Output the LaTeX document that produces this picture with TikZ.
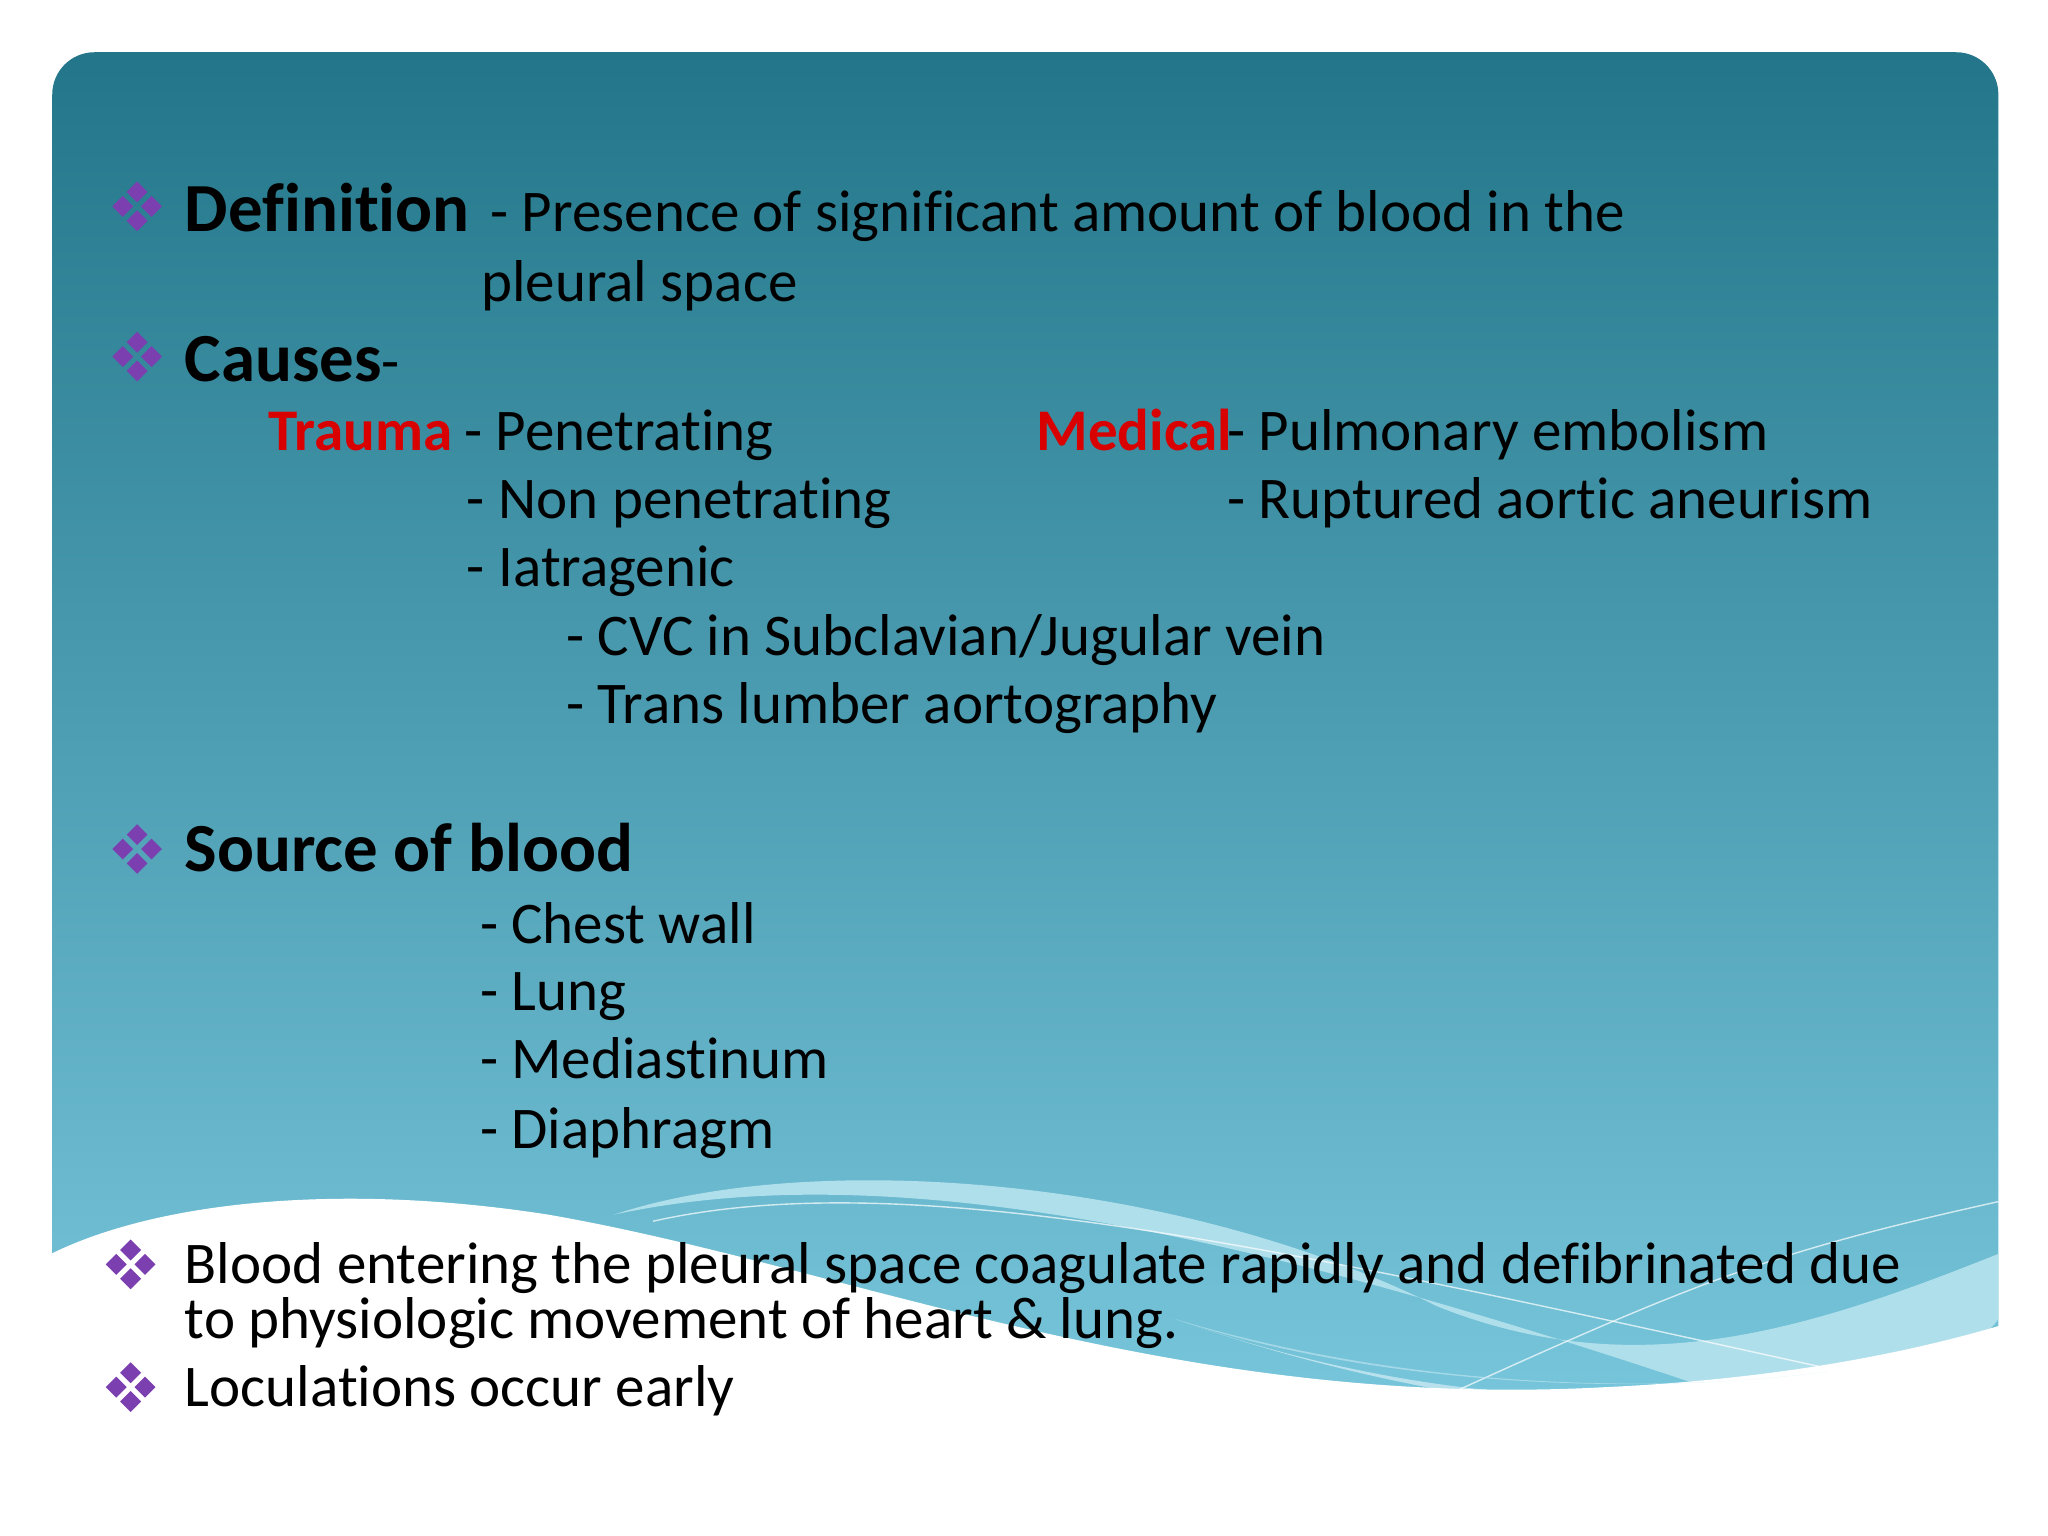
\documentclass[tikz,border=0pt]{standalone}
\usepackage{fontspec}
\setmainfont[Ligatures=NoCommon]{Carlito}
\begin{document}
\begin{tikzpicture}[x=0.01306cm,y=-0.01306cm,
  txt/.style={anchor=base west,inner sep=0,font=\fontsize{16.8}{19}\selectfont},
  head/.style={anchor=base west,inner sep=0,font=\fontsize{19.6}{22}\selectfont\bfseries},
  red/.style={text=red!85!black}]
\definecolor{topc}{HTML}{237689}
\definecolor{botc}{HTML}{7BC9DF}
\definecolor{bul}{HTML}{7B3FB0}
\useasboundingbox (0,0) rectangle (1568,1176);
\fill[white] (0,0) rectangle (1568,1176);
\shade[top color=topc,bottom color=botc,rounded corners=12] (40,40) rectangle (1530,1120);
% light bands
\fill[botc!60!white] (470,930) .. controls (700,880) and (1000,960) .. (1300,1060) .. controls (1420,1080) and (1500,1050) .. (1530,1010) -- (1530,960) .. controls (1380,1020) and (1250,1060) .. (1100,1000) .. controls (900,900) and (620,880) .. (470,930) -- cycle;
\fill[botc!40!white,opacity=0.8] (900,1010) .. controls (1100,1080) and (1300,1090) .. (1530,1030) -- (1530,1080) .. controls (1300,1100) and (1100,1080) .. (900,1010) -- cycle;
\draw[white,opacity=0.7] (500,935) .. controls (700,890) and (1000,960) .. (1410,1050);
\draw[white,opacity=0.7] (1530,920) .. controls (1350,960) and (1300,980) .. (1060,1090);
% white wave
\fill[white] (39,960) .. controls (120,920) and (260,905) .. (420,930) .. controls (650,970) and (900,1080) .. (1230,1062) .. controls (1380,1055) and (1480,1030) .. (1531,1015) -- (1531,1177) -- (39,1177) -- cycle;
\fill[botc!45!white,opacity=0.6] (900,1010) .. controls (1050,1060) and (1250,1070) .. (1400,1050) .. controls (1300,1064) and (1100,1070) .. (900,1010) -- cycle;
\newcommand{\bulmark}[2]{\begin{scope}[shift={(#1,#2)}]
  \foreach \dx/\dy in {0/-11,-11/0,11/0,0/11}{\fill[bul] (\dx,\dy-8) -- (\dx+8,\dy) -- (\dx,\dy+8) -- (\dx-8,\dy) -- cycle;}
\end{scope}}
\bulmark{105}{158}
\bulmark{105}{273}
\bulmark{105}{650}
\bulmark{100}{968}
\bulmark{100}{1062}
\node[head] (d) at (141,177) {Definition};
\node[txt] (d1) at (375,177) {- Presence of significant amount of blood in the};
\node[txt] (d2) at (368,231) {pleural space};
\node[head] (c) at (141,292) {Causes\textmd{\fontsize{16.8}{19}\selectfont -}};
\node[txt,red,font=\fontsize{16.8}{19}\selectfont\bfseries] (tr) at (205,345) {Trauma};
\node[txt] (t1) at (355,345) {- Penetrating};
\node[txt] (t2) at (357,397) {- Non penetrating};
\node[txt] (t3) at (357,449) {- Iatragenic};
\node[txt] (t4) at (433,502) {- CVC in Subclavian/Jugular vein};
\node[txt] (t5) at (433,554) {- Trans lumber aortography};
\node[txt,red,font=\fontsize{16.8}{19}\selectfont\bfseries] (md) at (793,345) {Medical};
\node[txt] (m1) at (939,345) {- Pulmonary embolism};
\node[txt] (m2) at (939,397) {- Ruptured aortic aneurism};
\node[head] (s) at (141,667) {Source of blood};
\node[txt] (s1) at (367,722) {- Chest wall};
\node[txt] (s2) at (367,774) {- Lung};
\node[txt] (s3) at (367,826) {- Mediastinum};
\node[txt] (s4) at (367,879) {- Diaphragm};
\node[txt] (b1) at (141,983) {Blood entering the pleural space coagulate rapidly and defibrinated due};
\node[txt] (b2) at (141,1025) {to physiologic movement of heart \& lung.};
\node[txt] (b3) at (141,1077) {Loculations occur early};
\end{tikzpicture}
\end{document}
